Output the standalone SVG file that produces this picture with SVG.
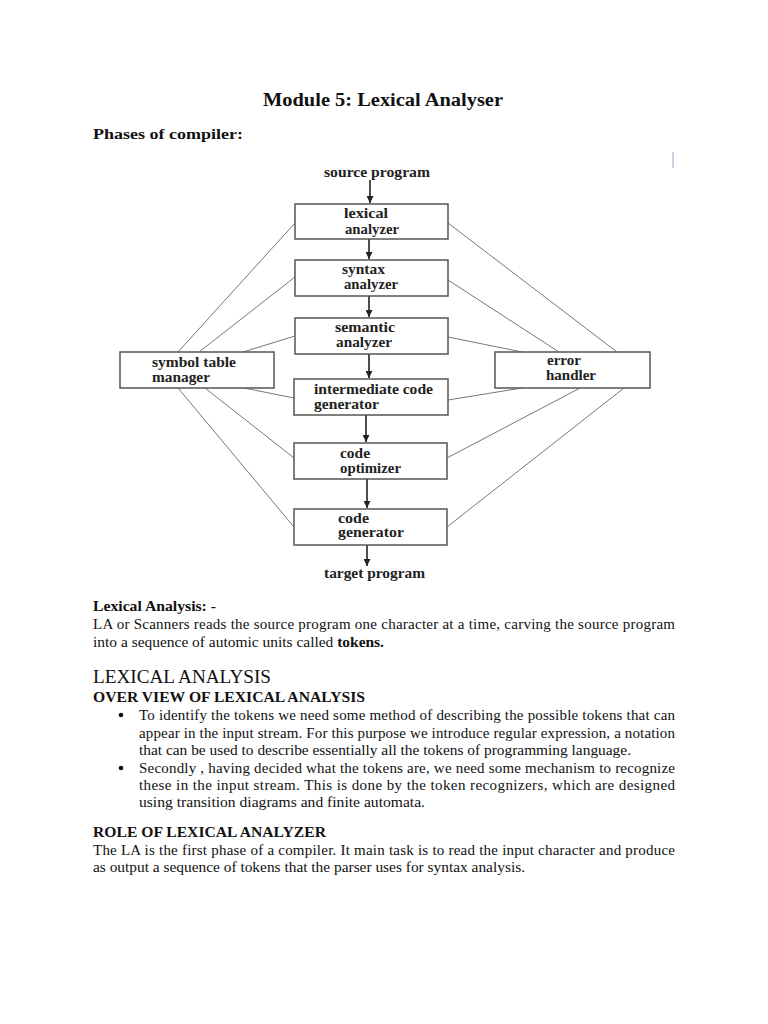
<svg xmlns="http://www.w3.org/2000/svg" width="768" height="1024" viewBox="0 0 768 1024">
<defs>
<marker id="ah" viewBox="0 0 10 10" refX="10" refY="5" markerWidth="7" markerHeight="7" markerUnits="userSpaceOnUse" orient="auto">
<path d="M0,0 L10,5 L0,10 z" fill="#222"/>
</marker>
<style>
.t{font-family:"Liberation Serif","Times New Roman",serif;fill:#111;}
.b{font-weight:bold;}
.body{font-size:15px;}
.dg{font-family:"Liberation Serif","Times New Roman",serif;font-weight:bold;font-size:14px;fill:#222;}
.box{fill:#fff;stroke:#555;stroke-width:1.5;}
.ln{stroke:#777;stroke-width:1;fill:none;}
.ar{stroke:#222;stroke-width:1.6;fill:none;marker-end:url(#ah);}
</style>
</defs>
<rect width="768" height="1024" fill="#fff"/>

<text class="t b" x="263" y="106" font-size="18" textLength="240" lengthAdjust="spacingAndGlyphs">Module 5: Lexical Analyser</text>
<text class="t b" x="93" y="139" font-size="15" textLength="150" lengthAdjust="spacingAndGlyphs">Phases of compiler:</text>
<rect x="672" y="152" width="2" height="16" fill="#c9d5e2"/>

<g id="connectors">
<line class="ln" x1="295" y1="223" x2="178" y2="352"/>
<line class="ln" x1="295" y1="277" x2="199" y2="352"/>
<line class="ln" x1="295" y1="336" x2="243" y2="352"/>
<line class="ln" x1="448" y1="223" x2="617" y2="352"/>
<line class="ln" x1="448" y1="280" x2="559" y2="352"/>
<line class="ln" x1="448" y1="337" x2="522" y2="352"/>
<line class="ln" x1="244" y1="388" x2="294" y2="398"/>
<line class="ln" x1="205" y1="388" x2="294" y2="458"/>
<line class="ln" x1="178" y1="388" x2="294" y2="527"/>
<line class="ln" x1="522" y1="388" x2="448" y2="400"/>
<line class="ln" x1="580" y1="388" x2="447" y2="458"/>
<line class="ln" x1="624" y1="388" x2="447" y2="527"/>
<line class="ar" x1="370" y1="180" x2="370" y2="203"/>
<line class="ar" x1="369" y1="239" x2="369" y2="259"/>
<line class="ar" x1="369" y1="296" x2="369" y2="317"/>
<line class="ar" x1="369" y1="354" x2="369" y2="378"/>
<line class="ar" x1="366" y1="415" x2="366" y2="442"/>
<line class="ar" x1="367" y1="479" x2="367" y2="508"/>
<line class="ar" x1="367" y1="545" x2="367" y2="566"/>
</g>

<g id="source">
<text class="dg" x="324" y="177" textLength="106" lengthAdjust="spacingAndGlyphs">source program</text>
</g>
<g id="lexical">
<rect class="box" x="295" y="204" width="153" height="35"/>
<text class="dg" x="344" y="218" textLength="44" lengthAdjust="spacingAndGlyphs">lexical</text>
<text class="dg" x="345" y="234" textLength="54" lengthAdjust="spacingAndGlyphs">analyzer</text>
</g>
<g id="syntax">
<rect class="box" x="295" y="260" width="153" height="36"/>
<text class="dg" x="342" y="274" textLength="43" lengthAdjust="spacingAndGlyphs">syntax</text>
<text class="dg" x="344" y="289" textLength="54" lengthAdjust="spacingAndGlyphs">analyzer</text>
</g>
<g id="semantic">
<rect class="box" x="295" y="318" width="153" height="36"/>
<text class="dg" x="335" y="332" textLength="60" lengthAdjust="spacingAndGlyphs">semantic</text>
<text class="dg" x="336" y="347" textLength="56" lengthAdjust="spacingAndGlyphs">analyzer</text>
</g>
<g id="symbol">
<rect class="box" x="120" y="352" width="154" height="36"/>
<text class="dg" x="152" y="367" textLength="84" lengthAdjust="spacingAndGlyphs">symbol table</text>
<text class="dg" x="152" y="382" textLength="58" lengthAdjust="spacingAndGlyphs">manager</text>
</g>
<g id="error">
<rect class="box" x="495" y="352" width="155" height="36"/>
<text class="dg" x="547" y="365" textLength="34" lengthAdjust="spacingAndGlyphs">error</text>
<text class="dg" x="546" y="380" textLength="50" lengthAdjust="spacingAndGlyphs">handler</text>
</g>
<g id="intermediate">
<rect class="box" x="294" y="379" width="154" height="36"/>
<text class="dg" x="314" y="394" textLength="119" lengthAdjust="spacingAndGlyphs">intermediate code</text>
<text class="dg" x="314" y="409" textLength="65" lengthAdjust="spacingAndGlyphs">generator</text>
</g>
<g id="optimizer">
<rect class="box" x="294" y="443" width="153" height="36"/>
<text class="dg" x="340" y="458" textLength="30" lengthAdjust="spacingAndGlyphs">code</text>
<text class="dg" x="340" y="473" textLength="61" lengthAdjust="spacingAndGlyphs">optimizer</text>
</g>
<g id="codegen">
<rect class="box" x="294" y="509" width="153" height="36"/>
<text class="dg" x="338" y="523" textLength="31" lengthAdjust="spacingAndGlyphs">code</text>
<text class="dg" x="338" y="537" textLength="66" lengthAdjust="spacingAndGlyphs">generator</text>
</g>
<g id="target">
<text class="dg" x="324" y="578" textLength="101" lengthAdjust="spacingAndGlyphs">target program</text>
</g>

<g id="text">
<text class="t b body" x="93" y="611" textLength="123" lengthAdjust="spacingAndGlyphs">Lexical Analysis: -</text>
<text class="t body" x="93" y="629" textLength="582" lengthAdjust="spacing">LA or Scanners reads the source program one character at a time, carving the source program</text>
<text class="t body" x="93" y="647" textLength="291" lengthAdjust="spacingAndGlyphs">into a sequence of automic units called <tspan class="b">tokens.</tspan></text>

<text class="t" x="93" y="683" font-size="19" textLength="178" lengthAdjust="spacingAndGlyphs">LEXICAL ANALYSIS</text>
<text class="t b body" x="93" y="702" textLength="272" lengthAdjust="spacingAndGlyphs">OVER VIEW OF LEXICAL ANALYSIS</text>
<circle cx="121" cy="715" r="2.3" fill="#111"/>
<text class="t body" x="139" y="720" textLength="536" lengthAdjust="spacing">To identify the tokens we need some method of describing the possible tokens that can</text>
<text class="t body" x="139" y="737.5" textLength="536" lengthAdjust="spacing">appear in the input stream. For this purpose we introduce regular expression, a notation</text>
<text class="t body" x="139" y="755" textLength="492" lengthAdjust="spacingAndGlyphs">that can be used to describe essentially all the tokens of programming language.</text>
<circle cx="121" cy="768" r="2.3" fill="#111"/>
<text class="t body" x="139" y="773" textLength="536" lengthAdjust="spacing">Secondly , having decided what the tokens are, we need some mechanism to recognize</text>
<text class="t body" x="139" y="790" textLength="536" lengthAdjust="spacing">these in the input stream. This is done by the token recognizers, which are designed</text>
<text class="t body" x="139" y="807" textLength="286" lengthAdjust="spacingAndGlyphs">using transition diagrams and finite automata.</text>

<text class="t b body" x="93" y="837" textLength="233" lengthAdjust="spacingAndGlyphs">ROLE OF LEXICAL ANALYZER</text>
<text class="t body" x="93" y="855" textLength="582" lengthAdjust="spacing">The LA is the first phase of a compiler. It main task is to read the input character and produce</text>
<text class="t body" x="93" y="872" textLength="432" lengthAdjust="spacingAndGlyphs">as output a sequence of tokens that the parser uses for syntax analysis.</text>
</g>
</svg>
